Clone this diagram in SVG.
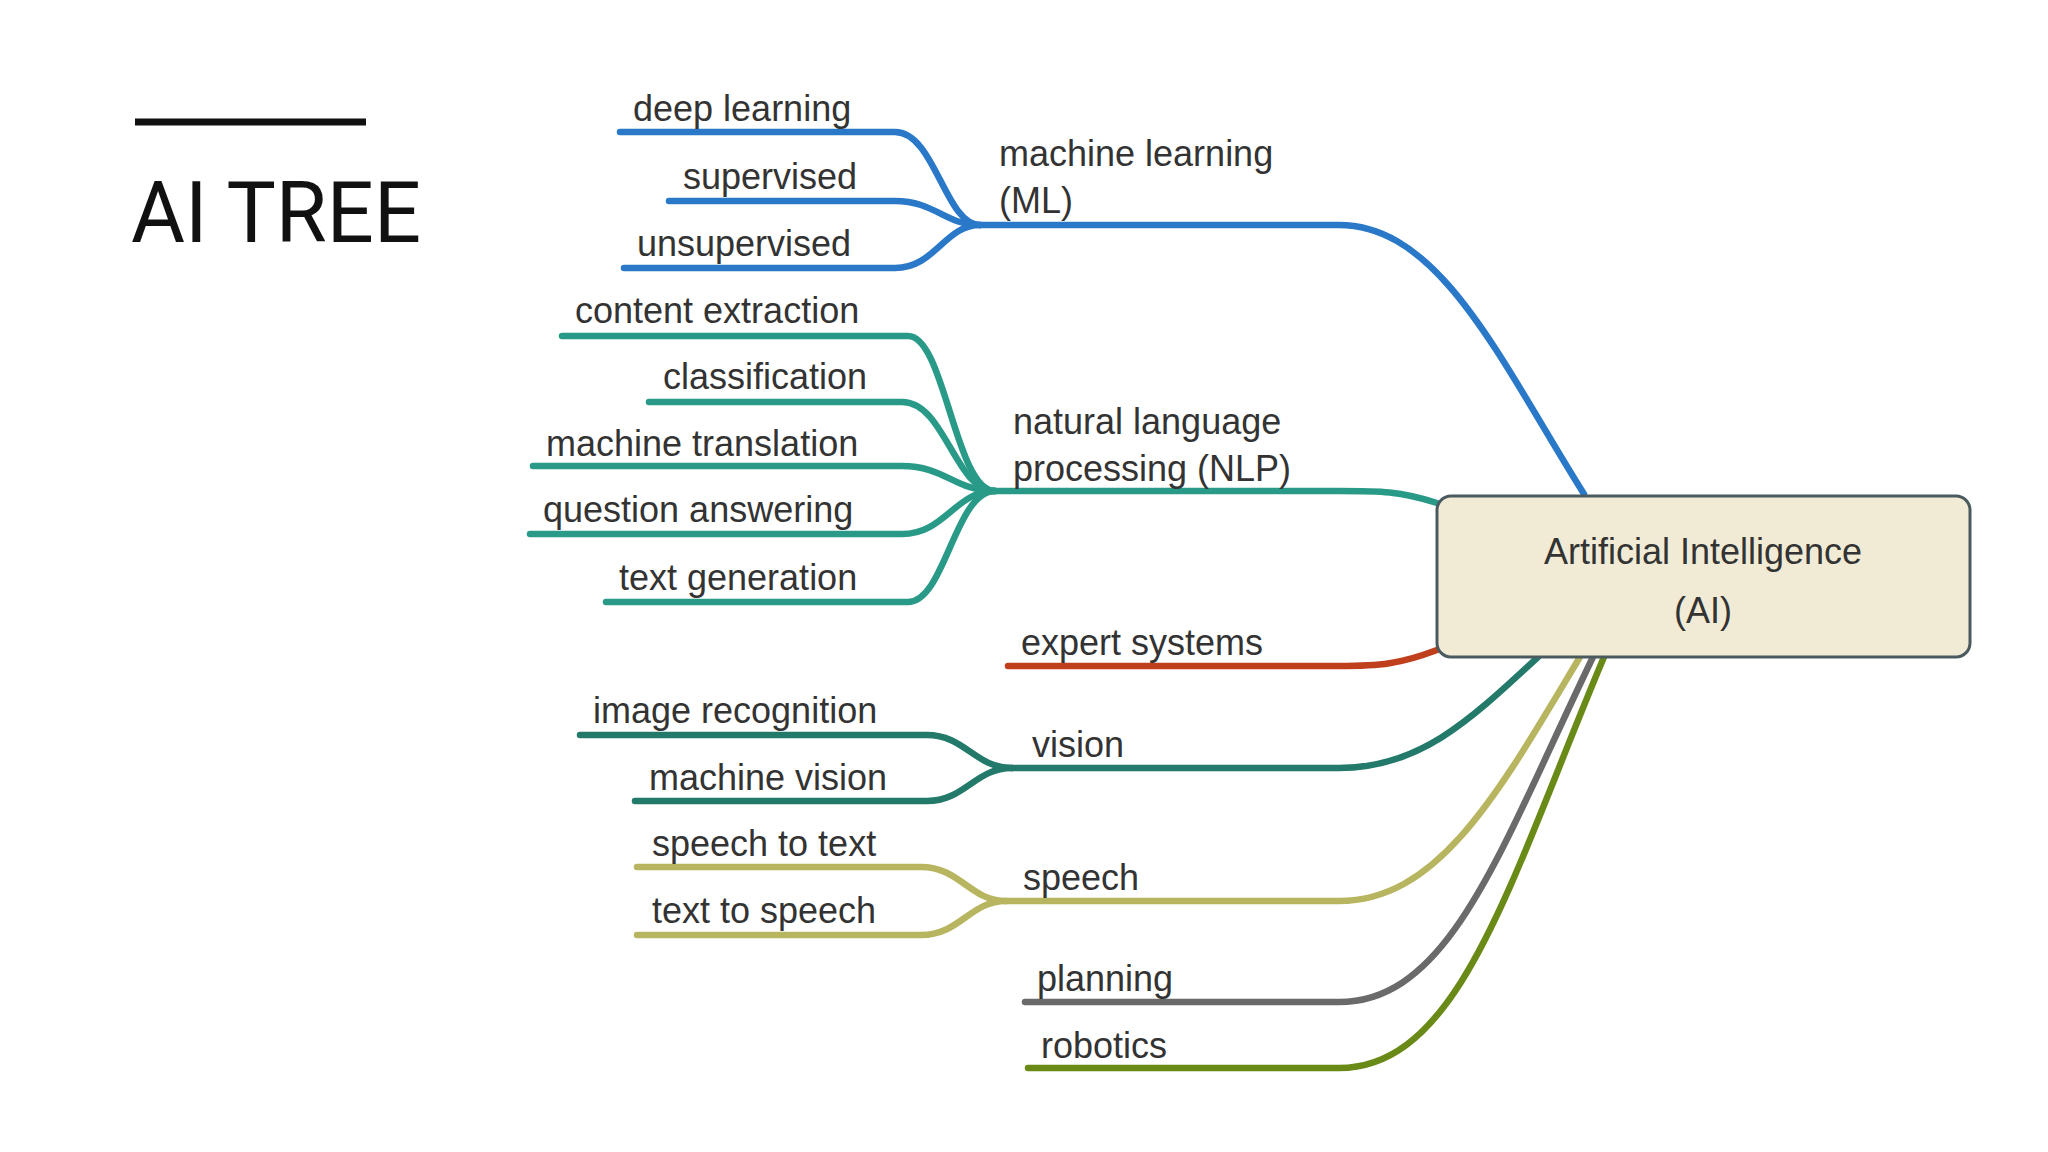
<svg xmlns="http://www.w3.org/2000/svg" width="2048" height="1152" viewBox="0 0 2048 1152">
<style>
.t{font-family:"Liberation Sans",Arial,sans-serif;font-size:36px;fill:#333}
.c{fill:none;stroke-width:6.5;stroke-linecap:round}
.ml{stroke:#2a78c8}.nlp{stroke:#2a9a88}.ex{stroke:#c0401e}.vi{stroke:#237a6a}.sp{stroke:#b8b560}.pl{stroke:#6a6a6a}.ro{stroke:#6a8a18}
</style>
<rect width="2048" height="1152" fill="#fff"/>
<g id="title">
<line x1="135" y1="122" x2="366" y2="122" stroke="#111" stroke-width="7"/>
<text x="131" y="242" font-family="Roboto,'DejaVu Sans Condensed',sans-serif" font-size="86" fill="#111" textLength="290" lengthAdjust="spacingAndGlyphs">AI  TREE</text>
</g>
<g id="connectors">
<path class="c ml" d="M1584,494 C1500,360 1440,225 1339,225 L980,225"/>
<path class="c ml" d="M620,132 L895,132 C935,132 945,225 980,225"/>
<path class="c ml" d="M669,201 L895,201 C935,201 945,225 980,225"/>
<path class="c ml" d="M624,268 L895,268 C935,268 945,225 980,225"/>
<path class="c nlp" d="M1437,503 C1400,491 1380,491 1339,491 L995,491"/>
<path class="c nlp" d="M562,336 L908,336 C945,336 955,491 995,491"/>
<path class="c nlp" d="M649,402 L902,402 C945,402 955,491 995,491"/>
<path class="c nlp" d="M533,466 L902,466 C945,466 955,491 995,491"/>
<path class="c nlp" d="M530,534 L902,534 C945,534 955,491 995,491"/>
<path class="c nlp" d="M606,602 L908,602 C945,602 955,491 995,491"/>
<path class="c ex" d="M1437,650 C1400,664 1380,666 1339,666 L1008,666"/>
<path class="c vi" d="M1538,657 C1470,720 1420,768 1339,768 L1012,768"/>
<path class="c vi" d="M580,735 L927,735 C965,735 975,768 1012,768"/>
<path class="c vi" d="M635,801 L927,801 C965,801 975,768 1012,768"/>
<path class="c sp" d="M1580,657 C1500,790 1440,901 1339,901 L1006,901"/>
<path class="c sp" d="M637,867 L921,867 C960,867 970,901 1006,901"/>
<path class="c sp" d="M637,935 L921,935 C960,935 970,901 1006,901"/>
<path class="c pl" d="M1593,657 C1500,850 1450,1002 1339,1002 L1025,1002"/>
<path class="c ro" d="M1604,657 C1510,880 1460,1068 1339,1068 L1028,1068"/>
</g>
<g id="ai"><rect x="1437" y="496" width="533" height="161" rx="14" fill="#f1ebd6" stroke="#4a5a5e" stroke-width="3"/>
<text class="t" x="1703" y="564" text-anchor="middle" font-size="47">Artificial Intelligence</text>
<text class="t" x="1703" y="623" text-anchor="middle" font-size="47">(AI)</text></g>
<g id="ml"><text class="t" x="999" y="166">machine learning</text><text class="t" x="999" y="213">(ML)</text></g>
<g id="deep"><text class="t" x="633" y="121">deep learning</text></g>
<g id="sup"><text class="t" x="683" y="189">supervised</text></g>
<g id="unsup"><text class="t" x="637" y="256">unsupervised</text></g>
<g id="nlp"><text class="t" x="1013" y="434">natural language</text><text class="t" x="1013" y="481">processing (NLP)</text></g>
<g id="ce"><text class="t" x="575" y="323">content extraction</text></g>
<g id="cl"><text class="t" x="663" y="389">classification</text></g>
<g id="mt"><text class="t" x="546" y="456">machine translation</text></g>
<g id="qa"><text class="t" x="543" y="522">question answering</text></g>
<g id="tg"><text class="t" x="619" y="590">text generation</text></g>
<g id="es"><text class="t" x="1021" y="655">expert systems</text></g>
<g id="vision"><text class="t" x="1032" y="757">vision</text></g>
<g id="ir"><text class="t" x="593" y="723">image recognition</text></g>
<g id="mv"><text class="t" x="649" y="790">machine vision</text></g>
<g id="speech"><text class="t" x="1023" y="890">speech</text></g>
<g id="stt"><text class="t" x="652" y="856">speech to text</text></g>
<g id="tts"><text class="t" x="652" y="923">text to speech</text></g>
<g id="planning"><text class="t" x="1037" y="991">planning</text></g>
<g id="robotics"><text class="t" x="1041" y="1058">robotics</text></g>
</svg>
